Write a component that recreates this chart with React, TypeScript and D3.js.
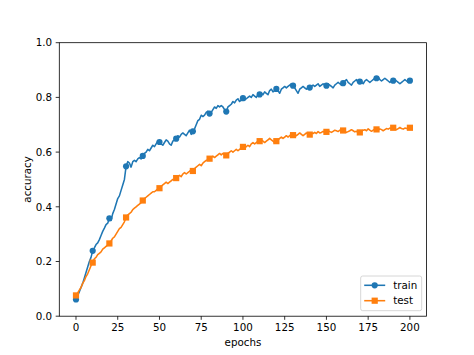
import React from "react";
import * as d3 from "d3";

const trainAcc: number[] = [
  0.061, 0.075, 0.09, 0.105, 0.12, 0.14, 0.16, 0.18, 0.2, 0.215,
  0.239, 0.25, 0.262, 0.268, 0.28, 0.295, 0.31, 0.322, 0.335, 0.34,
  0.358, 0.35, 0.375, 0.39, 0.41, 0.43, 0.44, 0.46, 0.48, 0.5,
  0.548, 0.565, 0.56, 0.545, 0.565, 0.57, 0.565, 0.575, 0.58, 0.575,
  0.586, 0.595, 0.6, 0.61, 0.605, 0.615, 0.625, 0.62, 0.63, 0.64,
  0.637, 0.63, 0.625, 0.635, 0.645, 0.64, 0.63, 0.625, 0.64, 0.645,
  0.649, 0.66, 0.655, 0.665, 0.67, 0.665, 0.66, 0.67, 0.68, 0.665,
  0.676, 0.685, 0.7, 0.715, 0.72, 0.735, 0.73, 0.735, 0.745, 0.75,
  0.741, 0.745, 0.755, 0.765, 0.76, 0.77, 0.765, 0.77, 0.765, 0.755,
  0.748, 0.765, 0.77, 0.775, 0.785, 0.78, 0.79, 0.795, 0.785, 0.79,
  0.797, 0.79, 0.795, 0.8, 0.805, 0.8, 0.81, 0.805, 0.8, 0.81,
  0.811, 0.815, 0.81, 0.82, 0.815, 0.81, 0.825, 0.83, 0.82, 0.825,
  0.831, 0.825, 0.815, 0.83, 0.835, 0.84, 0.835, 0.84, 0.845, 0.85,
  0.843, 0.835, 0.825, 0.815, 0.83, 0.835, 0.84, 0.835, 0.83, 0.835,
  0.836, 0.84, 0.845, 0.84, 0.845, 0.85, 0.84, 0.845, 0.85, 0.845,
  0.843, 0.85, 0.845, 0.84, 0.835, 0.845, 0.85, 0.855, 0.85, 0.845,
  0.852, 0.86, 0.865, 0.855, 0.85, 0.845, 0.855, 0.86, 0.865, 0.855,
  0.858, 0.855, 0.85, 0.86, 0.865, 0.86, 0.855, 0.86, 0.865, 0.87,
  0.87, 0.875, 0.865, 0.86, 0.865, 0.87, 0.865, 0.86, 0.855, 0.86,
  0.861, 0.865, 0.86, 0.855, 0.85, 0.855, 0.86, 0.865, 0.86, 0.855,
  0.861,
];

const testAcc: number[] = [
  0.076, 0.085, 0.095, 0.105, 0.12, 0.13, 0.145, 0.155, 0.17, 0.185,
  0.196, 0.21, 0.215, 0.225, 0.23, 0.235, 0.245, 0.25, 0.255, 0.26,
  0.266, 0.275, 0.285, 0.29, 0.3, 0.31, 0.32, 0.325, 0.335, 0.345,
  0.361, 0.37, 0.375, 0.38, 0.39, 0.395, 0.4, 0.405, 0.41, 0.415,
  0.423, 0.43, 0.435, 0.44, 0.445, 0.45, 0.455, 0.455, 0.46, 0.465,
  0.468, 0.475, 0.48, 0.485, 0.49, 0.485, 0.49, 0.495, 0.5, 0.5,
  0.505, 0.51, 0.515, 0.51, 0.52, 0.525, 0.52, 0.525, 0.53, 0.535,
  0.531, 0.54, 0.545, 0.55, 0.555, 0.55, 0.56, 0.565, 0.57, 0.57,
  0.576, 0.58, 0.585, 0.58, 0.585, 0.59, 0.595, 0.59, 0.595, 0.59,
  0.588, 0.595, 0.6, 0.605, 0.6, 0.605, 0.61, 0.605, 0.61, 0.615,
  0.619, 0.615, 0.62, 0.625, 0.62, 0.63, 0.635, 0.63, 0.635, 0.64,
  0.64, 0.645, 0.64, 0.635, 0.64, 0.645, 0.65, 0.645, 0.64, 0.635,
  0.64, 0.645, 0.65, 0.655, 0.65, 0.655, 0.66, 0.655, 0.66, 0.665,
  0.662, 0.665, 0.66, 0.665, 0.67, 0.665, 0.66, 0.665, 0.67, 0.665,
  0.664, 0.67, 0.668, 0.672, 0.668, 0.675, 0.67, 0.672, 0.676, 0.672,
  0.674, 0.678, 0.675, 0.672, 0.676, 0.68, 0.678, 0.675, 0.68, 0.678,
  0.679, 0.676, 0.672, 0.675, 0.678, 0.682, 0.678, 0.674, 0.676, 0.67,
  0.672, 0.676, 0.68, 0.682, 0.678, 0.685, 0.68, 0.676, 0.68, 0.684,
  0.683, 0.68, 0.685, 0.682, 0.678, 0.682, 0.686, 0.684, 0.688, 0.685,
  0.689, 0.685, 0.682, 0.686, 0.69, 0.686, 0.684, 0.688, 0.686, 0.69,
  0.689,
];

const xTicks = [0, 25, 50, 75, 100, 125, 150, 175, 200];
const yTicks = [0, 0.2, 0.4, 0.6, 0.8, 1.0];
const seriesNames = ["train", "test"];
const markEvery = 10;

const W = 474;
const H = 355;
const M = { left: 59.3, right: 426.6, top: 42.7, bottom: 316.2 };
const BLUE = "#1f77b4";
const ORANGE = "#ff7f0e";
const FONT = "DejaVu Sans, sans-serif";
const FS = 10.3;

export default function App() {
  const x = d3.scaleLinear().domain([-10, 210]).range([M.left, M.right]);
  const y = d3.scaleLinear().domain([0, 1]).range([M.bottom, M.top]);
  const line = d3
    .line<number>()
    .x((_, i) => x(i))
    .y((d) => y(d));

  const markIdx = (arr: number[]) => arr.map((_, i) => i).filter((i) => i % markEvery === 0);
  const ms = 6.2;
  const lw = 1.55;

  const legX = 360.7, legY = 276, legW = 61, legH = 34.7;

  return (
    <svg width={W} height={H} style={{ position: "absolute", left: 0, top: 0, background: "#fff" }} fontFamily={FONT}>
      <rect x={0} y={0} width={W} height={H} fill="#fff" />
      <defs>
        <clipPath id="plot">
          <rect x={M.left} y={M.top} width={M.right - M.left} height={M.bottom - M.top} />
        </clipPath>
      </defs>
      <g clipPath="url(#plot)">
        <path d={line(trainAcc) || ""} fill="none" stroke={BLUE} strokeWidth={lw} strokeLinejoin="round" strokeLinecap="square" />
        {markIdx(trainAcc).map((i) => (
          <circle key={"t" + i} cx={x(i)} cy={y(trainAcc[i])} r={ms / 2} fill={BLUE} />
        ))}
        <path d={line(testAcc) || ""} fill="none" stroke={ORANGE} strokeWidth={lw} strokeLinejoin="round" strokeLinecap="square" />
        {markIdx(testAcc).map((i) => (
          <rect key={"s" + i} x={x(i) - ms / 2} y={y(testAcc[i]) - ms / 2} width={ms} height={ms} fill={ORANGE} />
        ))}
      </g>
      {/* spines */}
      <rect x={M.left} y={M.top} width={M.right - M.left} height={M.bottom - M.top} fill="none" stroke="#000" strokeWidth={0.8} />
      {/* x ticks */}
      {xTicks.map((t) => (
        <g key={"xt" + t}>
          <line x1={x(t)} x2={x(t)} y1={M.bottom} y2={M.bottom + 3.6} stroke="#000" strokeWidth={0.8} />
          <text x={x(t)} y={M.bottom + 7.2} dy="0.76em" textAnchor="middle" fontSize={FS} fill="#000">
            {t}
          </text>
        </g>
      ))}
      {yTicks.map((t) => (
        <g key={"yt" + t}>
          <line x1={M.left} x2={M.left - 3.6} y1={y(t)} y2={y(t)} stroke="#000" strokeWidth={0.8} />
          <text x={M.left - 7.2} y={y(t)} dy="0.36em" textAnchor="end" fontSize={FS} fill="#000">
            {t.toFixed(1)}
          </text>
        </g>
      ))}
      <text x={(M.left + M.right) / 2} y={346} textAnchor="middle" fontSize={FS} fill="#000">
        epochs
      </text>
      <text transform={`translate(30.5, ${(M.top + M.bottom) / 2}) rotate(-90)`} textAnchor="middle" fontSize={FS} fill="#000">
        accuracy
      </text>
      {/* legend */}
      <rect x={legX} y={legY} width={legW} height={legH} rx={2} fill="#fff" fillOpacity={0.8} stroke="#ccc" strokeWidth={0.8} />
      {seriesNames.map((name, k) => {
        const cy = legY + 9.3 + k * 15.4;
        const col = k === 0 ? BLUE : ORANGE;
        return (
          <g key={name}>
            <line x1={legX + 3.5} x2={legX + 24.5} y1={cy} y2={cy} stroke={col} strokeWidth={lw} />
            {k === 0 ? (
              <circle cx={legX + 14} cy={cy} r={ms / 2} fill={col} />
            ) : (
              <rect x={legX + 14 - ms / 2} y={cy - ms / 2} width={ms} height={ms} fill={col} />
            )}
            <text x={legX + 32.5} y={cy} dy="0.36em" fontSize={FS} fill="#000">
              {name}
            </text>
          </g>
        );
      })}
    </svg>
  );
}
